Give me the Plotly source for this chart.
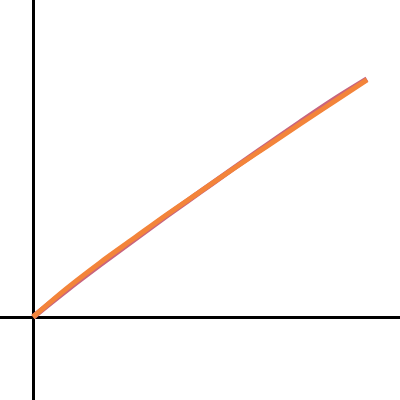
import plotly.graph_objects as go

x_vals = [0, 1, 2, 3, 4, 5, 6, 7, 8, 9, 10]
series_a = [0.0, 0.80, 1.56, 2.30, 3.03, 3.74, 4.45, 5.14, 5.83, 6.50, 7.12]
series_b = [0.0, 0.85, 1.62, 2.34, 3.06, 3.75, 4.44, 5.11, 5.78, 6.44, 7.10]

fig = go.Figure()
fig.add_trace(go.Scatter(x=x_vals, y=series_a, mode="lines",
                         line=dict(color="#c8647e", width=5.5, shape="spline"),
                         showlegend=False, hoverinfo="skip"))
fig.add_trace(go.Scatter(x=x_vals, y=series_b, mode="lines",
                         line=dict(color="#f3843a", width=5, shape="spline"),
                         showlegend=False, hoverinfo="skip"))

fig.update_layout(
    width=400, height=400,
    margin=dict(l=0, r=0, t=0, b=0),
    paper_bgcolor="white", plot_bgcolor="white",
    xaxis=dict(range=[-0.99, 10.99], showgrid=False, showticklabels=False,
               ticks="", zeroline=True, zerolinecolor="black", zerolinewidth=3,
               showline=False, fixedrange=True),
    yaxis=dict(range=[-2.485, 9.491], showgrid=False, showticklabels=False,
               ticks="", zeroline=True, zerolinecolor="black", zerolinewidth=3,
               showline=False, fixedrange=True),
)

fig.write_html("out.html", config={"displayModeBar": False},
               post_script="document.body.style.margin='0';")
